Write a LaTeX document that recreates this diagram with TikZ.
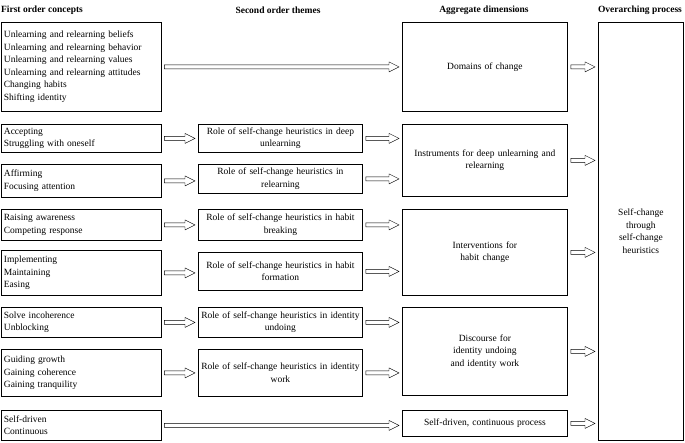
\documentclass[tikz,border=0pt]{standalone}
\usepackage{fontspec}
\setmainfont{Liberation Serif}
\usetikzlibrary{calc}

\tikzset{
  box/.style={draw, thick, anchor=north west, inner sep=3pt},
  list/.style={box, align=left, text width=#1},
  item/.style={box, inner xsep=1pt, align=center, text width=#1},
  head/.style={font=\bfseries\fontsize{9.5}{11}\selectfont},
  hollow arrow/.style={draw, thin, line join=miter}
}

% hollow block arrow from a node border towards another node, at the same height
\newcommand\harrow[2]{%
  \path let \p1=(#1), \p2=(#1 -| #2) in
    [hollow arrow] ({\x1+3pt},{\y1-2pt}) -- ({\x2-13pt},{\y1-2pt}) -- ({\x2-13pt},{\y1-5pt})
    -- ({\x2-3pt},\y1) -- ({\x2-13pt},{\y1+5pt}) -- ({\x2-13pt},{\y1+2pt})
    -- ({\x1+3pt},{\y1+2pt}) -- cycle;}

\begin{document}
\begin{tikzpicture}[x=1pt, y=-1pt, font=\fontsize{9.5}{12.5}\selectfont]
  \useasboundingbox (0,0) rectangle (685,442);

  % Headers
  \node[head] (h1) at (42,10) {First order concepts};
  \node[head] (h2) at (278,10) {Second order themes};
  \node[head] (h3) at (484,10) {Aggregate dimensions};
  \node[head] (h4) at (640,10) {Overarching process};

  % First order concepts
  \node[list=154pt, minimum height=89pt] (c1) at (0.5,22) {Unlearning and relearning beliefs\\Unlearning and relearning behavior\\Unlearning and relearning values\\Unlearning and relearning attitudes\\Changing habits\\Shifting identity};
  \node[list=154pt, minimum height=28pt] (c2) at (0.5,124) {Accepting\\Struggling with oneself};
  \node[list=154pt, minimum height=33pt] (c3) at (0.5,164) {Affirming\\Focusing attention};
  \node[list=154pt, minimum height=31pt] (c4) at (0.5,209) {Raising awareness\\Competing response};
  \node[list=154pt, minimum height=45pt] (c5) at (0.5,250) {Implementing\\Maintaining\\Easing};
  \node[list=154pt, minimum height=30pt] (c6) at (0.5,307) {Solve incoherence\\Unblocking};
  \node[list=154pt, minimum height=47pt] (c7) at (0.5,349) {Guiding growth\\Gaining coherence\\Gaining tranquility};
  \node[list=154pt, minimum height=30pt] (c8) at (0.5,410) {Self-driven\\Continuous};

  % Second order themes
  \node[item=162pt, minimum height=28pt] (t1) at (198,124) {Role of self-change heuristics in deep\\unlearning};
  \node[item=162pt, minimum height=29pt] (t2) at (198,164) {Role of self-change heuristics in\\relearning};
  \node[item=162pt, minimum height=31pt] (t3) at (198,209) {Role of self-change heuristics in habit\\breaking};
  \node[item=162pt, minimum height=38pt] (t4) at (198,252) {Role of self-change heuristics in habit\\formation};
  \node[item=162pt, minimum height=30pt] (t5) at (198,307) {Role of self-change heuristics in identity\\undoing};
  \node[item=162pt, minimum height=47pt] (t6) at (198,349) {Role of self-change heuristics in identity\\work};

  % Aggregate dimensions
  \node[item=163pt, minimum height=89pt] (d1) at (402,22) {Domains of change};
  \node[item=163pt, minimum height=72pt] (d2) at (402,124) {Instruments for deep unlearning and\\relearning};
  \node[item=163pt, minimum height=86pt] (d3) at (402,209) {Interventions for\\habit change};
  \node[item=163pt, minimum height=88pt] (d4) at (402,307) {Discourse for\\identity undoing\\and identity work};
  \node[item=163pt, minimum height=26pt] (d5) at (402,410) {Self-driven, continuous process};

  % Overarching process
  \node[item=83pt, minimum height=418pt] (p) at (598,22) {Self-change\\through\\self-change\\heuristics};

  % Arrows
  \harrow{c1.east}{d1.west}
  \harrow{c2.east}{t1.west}
  \harrow{c3.east}{t2.west}
  \harrow{c4.east}{t3.west}
  \harrow{c5.east}{t4.west}
  \harrow{c6.east}{t5.west}
  \harrow{c7.east}{t6.west}
  \harrow{c8.east}{d5.west}
  \harrow{t1.east}{d2.west}
  \harrow{t2.east}{d2.west}
  \harrow{t3.east}{d3.west}
  \harrow{t4.east}{d3.west}
  \harrow{t5.east}{d4.west}
  \harrow{t6.east}{d4.west}
  \harrow{d1.east}{p.west}
  \harrow{d2.east}{p.west}
  \harrow{d3.east}{p.west}
  \harrow{d4.east}{p.west}
  \harrow{d5.east}{p.west}
\end{tikzpicture}
\end{document}
